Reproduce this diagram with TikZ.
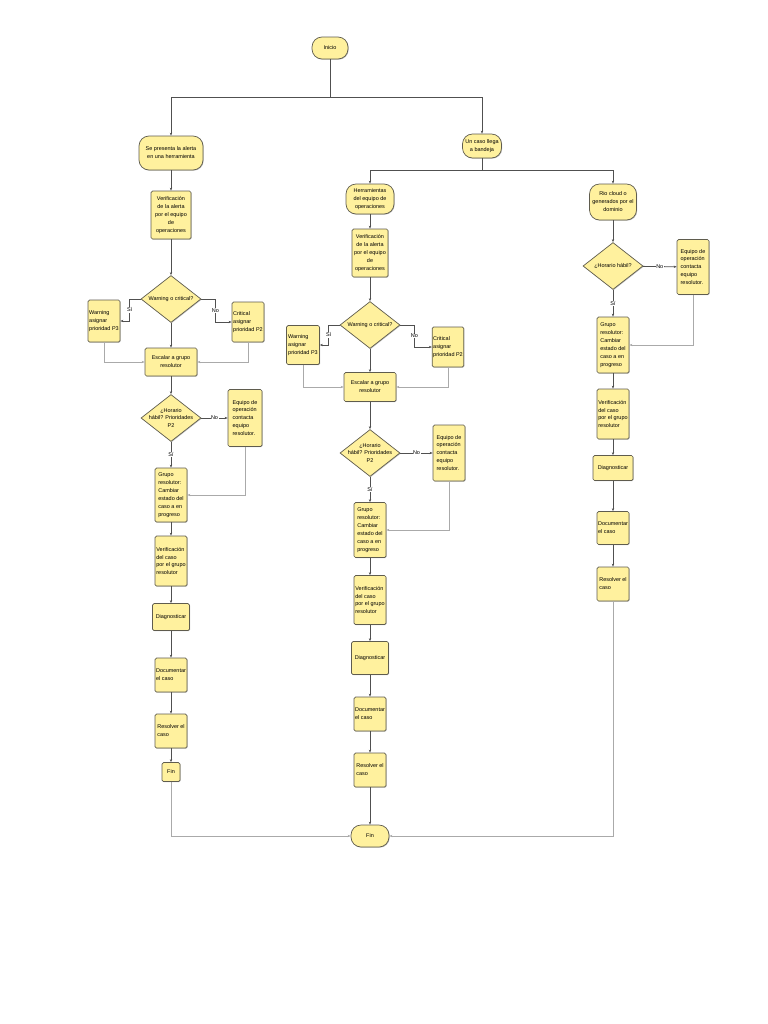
\documentclass[tikz,border=0pt]{standalone}
\usepackage{fontspec}
\setmainfont{Liberation Sans}
\usetikzlibrary{shapes.geometric,arrows.meta,shadows}
\definecolor{boxfill}{RGB}{255,241,158}
\definecolor{boxline}{RGB}{95,92,78}
\definecolor{flowdark}{RGB}{80,80,80}
\definecolor{flowlight}{RGB}{170,170,170}
\begin{document}
\begin{tikzpicture}[x=1bp,y=-1bp,
    every node/.style={font=\fontsize{5.5}{8}\selectfont,inner sep=1bp},
    wh/.style 2 args={minimum width=#1bp,minimum height=#2bp},
    boxbase/.style={draw=boxline,fill=boxfill,line width=0.7bp,
        drop shadow={shadow xshift=0.7bp,shadow yshift=-0.7bp,fill=black,opacity=0.25}},
    term/.style={boxbase,rounded corners=10bp,align=center},
    proc/.style={boxbase,rounded corners=1.5bp,align=left},
    decision/.style={boxbase,diamond,inner sep=0pt,wh={60}{47}},
    dtext/.style={align=center},
    flow/.style={draw=flowdark,line width=0.8bp,-{Stealth[length=3bp,width=2.4bp]}},
    back/.style={flow,draw=flowlight},
    yesno/.style={fill=white,inner sep=0.5bp}]
    \path[use as bounding box] (0,0) rectangle (768,1024);

    \node[term,wh={36}{22}] (ini) at (330,48) {Inicio};
    \coordinate (j1) at (330,97);
    \node[term,wh={64}{34}] (sa) at (171,153) {Se presenta la alerta\\en una herramienta};
    \node[term,wh={39}{24}] (sb) at (482,146) {Un caso llega\\a bandeja};
    \coordinate (j2) at (482,170);
    \node[term,wh={48}{30}] (ta) at (370,199) {Herramientas\\del equipo de\\operaciones};
    \node[term,wh={47}{36}] (tb) at (613,202) {Rio cloud o\\generados por el\\dominio};

    \node[proc,align=center,wh={40}{48}] (a1) at (171,215) {Verificación\\de la alerta\\por el equipo\\de\\operaciones};
    \node[decision,label={[dtext]center:Warning o critical?}] (a2) at (171,299) {};
    \node[proc,wh={32}{42}] (a3) at (104,321) {Warning\\asignar\\prioridad P3};
    \node[proc,wh={32}{40}] (a4) at (248,322) {Critical\\asignar\\prioridad P2};
    \node[proc,align=center,wh={52}{28}] (a5) at (171,362) {Escalar a grupo\\resolutor};
    \node[decision,label={[dtext]center:{¿Horario\\hábil? Prioridades\\P2}}] (a6) at (171,418) {};
    \node[proc,wh={34}{57}] (a7) at (245,418) {Equipo de\\operación\\contacta\\equipo\\resolutor.};
    \node[proc,wh={32}{54}] (a8) at (171,495) {Grupo\\resolutor:\\Cambiar\\estado del\\caso a en\\progreso};
    \node[proc,wh={32}{50}] (a9) at (171,561) {Verificación\\del caso\\por el grupo\\resolutor};
    \node[proc,wh={37}{27}] (a10) at (171,617) {Diagnosticar};
    \node[proc,wh={32}{34}] (a11) at (171,675) {Documentar\\el caso};
    \node[proc,wh={32}{34}] (a12) at (171,731) {Resolver el\\caso};
    \node[proc,wh={18}{19}] (a13) at (171,772) {Fin};

    \node[proc,align=center,wh={36}{48}] (b1) at (370,253) {Verificación\\de la alerta\\por el equipo\\de\\operaciones};
    \node[decision,label={[dtext]center:Warning o critical?}] (b2) at (370,325) {};
    \node[proc,wh={33}{39}] (b3) at (303,345) {Warning\\asignar\\prioridad P3};
    \node[proc,wh={31}{40}] (b4) at (448,347) {Critical\\asignar\\prioridad P2};
    \node[proc,align=center,wh={52}{29}] (b5) at (370,387) {Escalar a grupo\\resolutor};
    \node[decision,label={[dtext]center:{¿Horario\\hábil? Prioridades\\P2}}] (b6) at (370,453) {};
    \node[proc,wh={32}{56}] (b7) at (449,453) {Equipo de\\operación\\contacta\\equipo\\resolutor.};
    \node[proc,wh={32}{55}] (b8) at (370,530) {Grupo\\resolutor:\\Cambiar\\estado del\\caso a en\\progreso};
    \node[proc,wh={32}{49}] (b9) at (370,600) {Verificación\\del caso\\por el grupo\\resolutor};
    \node[proc,wh={37}{33}] (b10) at (370,658) {Diagnosticar};
    \node[proc,wh={32}{34}] (b11) at (370,714) {Documentar\\el caso};
    \node[proc,wh={32}{34}] (b12) at (370,770) {Resolver el\\caso};
    \node[term,wh={38}{22}] (fin) at (370,836) {Fin};

    \node[decision,label={[dtext]center:¿Horario hábil?}] (c1) at (613,266) {};
    \node[proc,wh={32}{55}] (c2) at (693,267) {Equipo de\\operación\\contacta\\equipo\\resolutor.};
    \node[proc,wh={32}{56}] (c3) at (613,345) {Grupo\\resolutor:\\Cambiar\\estado del\\caso a en\\progreso};
    \node[proc,wh={32}{50}] (c4) at (613,414) {Verificación\\del caso\\por el grupo\\resolutor};
    \node[proc,wh={40}{25}] (c5) at (613,468) {Diagnosticar};
    \node[proc,wh={32}{33}] (c6) at (613,528) {Documentar\\el caso};
    \node[proc,wh={32}{34}] (c7) at (613,584) {Resolver el\\caso};

    \draw[flow] (ini) -- (j1) -| (sa);
    \draw[flow] (j1) -| (sb);
    \draw[flow] (sb) -- (j2) -| (ta);
    \draw[flow] (j2) -| (tb);
    \draw[flow] (sa) -- (a1);
    \draw[flow] (ta) -- (b1);
    \draw[flow] (tb) -- (c1);

    \foreach \col in {a,b} {
        \draw[flow] (\col1) -- (\col2);
        \draw[flow] (\col2.west) -- ++(-11,0) |- node[yesno,pos=0.25] (\col si1) {Sí} (\col3);
        \draw[flow] (\col2.east) -- ++(14,0) |- node[yesno,pos=0.25] (\col no1) {No} (\col4);
        \draw[back] (\col3) |- (\col5);
        \draw[back] (\col4) |- (\col5);
        \draw[flow] (\col2) -- (\col5);
        \draw[flow] (\col5) -- (\col6);
        \draw[flow] (\col6) -- node[yesno] (\col no2) {No} (\col7);
        \draw[flow] (\col6) -- node[yesno] (\col si2) {Sí} (\col8);
        \draw[back] (\col7) |- (\col8);
        \foreach \i [count=\j from 9] in {8,...,11}
            \draw[flow] (\col\i) -- (\col\j);
    }
    \draw[flow] (a12) -- (a13);
    \draw[flow] (b12) -- (fin);
    \draw[back] (a13) |- (fin);

    \draw[flow] (c1) -- node[yesno] (cno) {No} (c2);
    \draw[flow] (c1) -- node[yesno] (csi) {Sí} (c3);
    \draw[back] (c2) |- (c3);
    \foreach \i [count=\j from 4] in {3,...,6}
        \draw[flow] (c\i) -- (c\j);
    \draw[back] (c7) |- (fin);
\end{tikzpicture}
\end{document}
